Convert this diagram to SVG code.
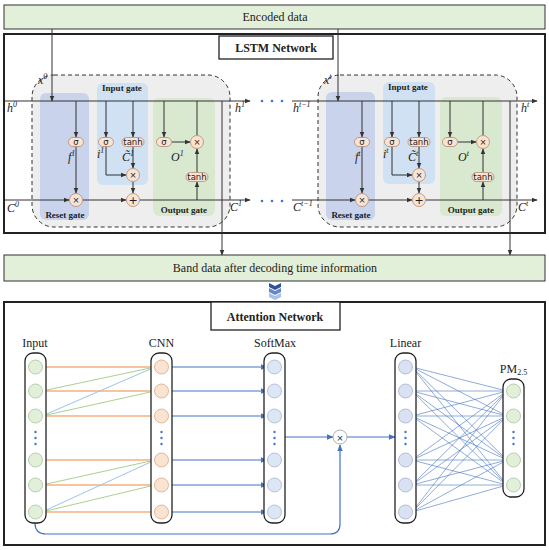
<svg xmlns="http://www.w3.org/2000/svg" width="549" height="550" viewBox="0 0 549 550">
<defs>
<marker id="ah" viewBox="0 0 10 10" refX="9" refY="5" markerWidth="6" markerHeight="6" orient="auto" markerUnits="userSpaceOnUse"><path d="M0,1 L10,5 L0,9 z" fill="#333"/></marker>
<marker id="ab" viewBox="0 0 10 10" refX="9" refY="5" markerWidth="7" markerHeight="7" orient="auto" markerUnits="userSpaceOnUse"><path d="M0,1 L10,5 L0,9 z" fill="#4472c4"/></marker>
<style>
text{font-family:"Liberation Serif","Times New Roman",serif;fill:#222}
.box{fill:#e2efd9;stroke:#333;stroke-width:1}
.frame{fill:#fff;stroke:#222;stroke-width:2}
.title{fill:#fff;stroke:#222;stroke-width:1.3}
.bt{font-size:12px;font-weight:bold;text-anchor:middle}
.lbl{font-size:12px;text-anchor:middle}
.gl{font-size:9px;font-weight:bold;text-anchor:middle}
.m{font-size:12px;font-style:italic}
.cell{fill:#eeeeee;stroke:#333;stroke-width:1;stroke-dasharray:4,3}
.rg{fill:#c9d3ec}
.ig{fill:#cfe1f3}
.og{fill:#d8e9cf}
.op{fill:#fbe3d2;stroke:#b08a74;stroke-width:0.8}
.ot{font-family:"DejaVu Sans","Liberation Sans",sans-serif;font-size:8.5px;text-anchor:middle;fill:#222}
.ln{stroke:#333;stroke-width:1;fill:none}
.dot{fill:#4472c4}
.col{fill:#fff;stroke:#222;stroke-width:1.3}
.cg{fill:#e2efd9;stroke:#a9c4a0;stroke-width:0.8}
.co{fill:#fbe3d2;stroke:#dba889;stroke-width:0.8}
.cb{fill:#dce6f4;stroke:#a5b7d2;stroke-width:0.8}
.cl{fill:#d9e1f2;stroke:#a5b0cf;stroke-width:0.8}
.or{stroke:#f4b183;stroke-width:1.3}
.gr{stroke:#a9d18e;stroke-width:1}
.lb{stroke:#9dc3e6;stroke-width:1}
.ba{stroke:#4472c4;stroke-width:1.2;fill:none}
.fl{stroke:#4472c4;stroke-width:0.6}
</style>
</defs>

<g id="encoded">
<rect class="box" x="4" y="5" width="541" height="24"/>
<text class="lbl" x="275" y="21">Encoded data</text>
</g>

<g id="lstm">
<rect class="frame" x="4" y="34" width="541" height="199"/>
</g>

<g id="cell1">
<rect class="cell" x="32" y="75" width="198" height="152" rx="22"/>
<rect class="rg" x="40" y="93" width="49" height="127" rx="6"/>
<rect class="ig" x="97" y="83" width="51" height="102" rx="6"/>
<rect class="og" x="153" y="98" width="62" height="118" rx="6"/>
<text class="gl" x="122" y="91">Input gate</text>
<text class="gl" x="65" y="218">Reset gate</text>
<text class="gl" x="184" y="213">Output gate</text>
</g>

<g id="cell2">
<rect class="cell" x="318" y="75" width="199" height="152" rx="22"/>
<rect class="rg" x="326" y="92" width="49" height="128" rx="6"/>
<rect class="ig" x="383" y="82" width="52" height="102" rx="6"/>
<rect class="og" x="440" y="97" width="62" height="119" rx="6"/>
<text class="gl" x="408" y="90">Input gate</text>
<text class="gl" x="351" y="218">Reset gate</text>
<text class="gl" x="471" y="213">Output gate</text>
</g>

<g id="lstm-title">
<rect class="title" x="219" y="36" width="114" height="23"/>
<text class="bt" x="276" y="52">LSTM Network</text>
</g>

<g id="connectors-lstm">
<!-- cell 1 -->
<line class="ln" x1="5" y1="101" x2="250" y2="101" marker-end="url(#ah)"/>
<line class="ln" x1="52" y1="29" x2="52" y2="101" marker-end="url(#ah)"/>
<line class="ln" x1="76" y1="101" x2="76" y2="137" marker-end="url(#ah)"/>
<line class="ln" x1="76" y1="147" x2="76" y2="193" marker-end="url(#ah)"/>
<line class="ln" x1="5" y1="200" x2="69" y2="200" marker-end="url(#ah)"/>
<line class="ln" x1="83" y1="200" x2="126" y2="200" marker-end="url(#ah)"/>
<line class="ln" x1="140" y1="200" x2="250" y2="200" marker-end="url(#ah)"/>
<line class="ln" x1="106" y1="101" x2="106" y2="137" marker-end="url(#ah)"/>
<polyline class="ln" points="106,147 106,175 126,175" marker-end="url(#ah)"/>
<line class="ln" x1="133" y1="101" x2="133" y2="137" marker-end="url(#ah)"/>
<line class="ln" x1="133" y1="147" x2="133" y2="168" marker-end="url(#ah)"/>
<line class="ln" x1="133" y1="182" x2="133" y2="193" marker-end="url(#ah)"/>
<line class="ln" x1="164" y1="101" x2="164" y2="137" marker-end="url(#ah)"/>
<line class="ln" x1="172" y1="142" x2="190" y2="142" marker-end="url(#ah)"/>
<line class="ln" x1="197" y1="200" x2="197" y2="182" marker-end="url(#ah)"/>
<line class="ln" x1="197" y1="172" x2="197" y2="149" marker-end="url(#ah)"/>
<line class="ln" x1="197" y1="135" x2="197" y2="101"/>
<line class="ln" x1="222" y1="101" x2="222" y2="255" marker-end="url(#ah)"/>
<!-- cell 2 -->
<line class="ln" x1="292" y1="101" x2="537" y2="101" marker-end="url(#ah)"/>
<line class="ln" x1="338" y1="29" x2="338" y2="101" marker-end="url(#ah)"/>
<line class="ln" x1="362" y1="101" x2="362" y2="137" marker-end="url(#ah)"/>
<line class="ln" x1="362" y1="147" x2="362" y2="193" marker-end="url(#ah)"/>
<line class="ln" x1="292" y1="200" x2="355" y2="200" marker-end="url(#ah)"/>
<line class="ln" x1="369" y1="200" x2="412" y2="200" marker-end="url(#ah)"/>
<line class="ln" x1="426" y1="200" x2="537" y2="200" marker-end="url(#ah)"/>
<line class="ln" x1="392" y1="101" x2="392" y2="137" marker-end="url(#ah)"/>
<polyline class="ln" points="392,147 392,175 412,175" marker-end="url(#ah)"/>
<line class="ln" x1="419" y1="101" x2="419" y2="137" marker-end="url(#ah)"/>
<line class="ln" x1="419" y1="147" x2="419" y2="168" marker-end="url(#ah)"/>
<line class="ln" x1="419" y1="182" x2="419" y2="193" marker-end="url(#ah)"/>
<line class="ln" x1="450" y1="101" x2="450" y2="137" marker-end="url(#ah)"/>
<line class="ln" x1="458" y1="142" x2="476" y2="142" marker-end="url(#ah)"/>
<line class="ln" x1="483" y1="200" x2="483" y2="182" marker-end="url(#ah)"/>
<line class="ln" x1="483" y1="172" x2="483" y2="149" marker-end="url(#ah)"/>
<line class="ln" x1="483" y1="135" x2="483" y2="101"/>
<line class="ln" x1="510" y1="101" x2="510" y2="255" marker-end="url(#ah)"/>
</g>

<g id="ops1">
<rect class="op" x="68.5" y="137.5" width="15" height="9" rx="4.5"/><text class="ot" x="76" y="145">σ</text>
<rect class="op" x="98.5" y="137.5" width="15" height="9" rx="4.5"/><text class="ot" x="106" y="145">σ</text>
<rect class="op" x="122" y="137.5" width="22" height="9" rx="4.5"/><text class="ot" x="133" y="145">tanh</text>
<rect class="op" x="156.5" y="137.5" width="15" height="9" rx="4.5"/><text class="ot" x="164" y="145">σ</text>
<rect class="op" x="186" y="172.5" width="22" height="9" rx="4.5"/><text class="ot" x="197" y="180">tanh</text>
<circle class="op" cx="76" cy="200" r="6.5"/><text class="ot" x="76" y="203">×</text>
<circle class="op" cx="133" cy="175" r="6.5"/><text class="ot" x="133" y="178">×</text>
<circle class="op" cx="133" cy="200" r="6.5"/><text class="ot" x="133" y="203.5" style="font-size:11px">+</text>
<circle class="op" cx="197" cy="142" r="6.5"/><text class="ot" x="197" y="145">×</text>
</g>

<g id="ops2">
<rect class="op" x="354.5" y="137.5" width="15" height="9" rx="4.5"/><text class="ot" x="362" y="145">σ</text>
<rect class="op" x="384.5" y="137.5" width="15" height="9" rx="4.5"/><text class="ot" x="392" y="145">σ</text>
<rect class="op" x="408" y="137.5" width="22" height="9" rx="4.5"/><text class="ot" x="419" y="145">tanh</text>
<rect class="op" x="442.5" y="137.5" width="15" height="9" rx="4.5"/><text class="ot" x="450" y="145">σ</text>
<rect class="op" x="472" y="172.5" width="22" height="9" rx="4.5"/><text class="ot" x="483" y="180">tanh</text>
<circle class="op" cx="362" cy="200" r="6.5"/><text class="ot" x="362" y="203">×</text>
<circle class="op" cx="419" cy="175" r="6.5"/><text class="ot" x="419" y="178">×</text>
<circle class="op" cx="419" cy="200" r="6.5"/><text class="ot" x="419" y="203.5" style="font-size:11px">+</text>
<circle class="op" cx="483" cy="142" r="6.5"/><text class="ot" x="483" y="145">×</text>
</g>

<g id="labels-lstm">
<text class="m" x="7" y="112">h<tspan dy="-5" font-size="8">0</tspan></text>
<text class="m" x="7" y="212">C<tspan dy="-5" font-size="8">0</tspan></text>
<text class="m" x="38" y="84">x<tspan dy="-5" font-size="8">0</tspan></text>
<text class="m" x="68" y="161">f<tspan dy="-5" font-size="8">1</tspan></text>
<text class="m" x="97" y="158">i<tspan dy="-5" font-size="8">1</tspan></text>
<text class="m" x="122" y="161">C̃<tspan dy="-5" font-size="8">1</tspan></text>
<text class="m" x="171" y="161">O<tspan dy="-5" font-size="8">1</tspan></text>
<text class="m" x="235" y="112">h<tspan dy="-5" font-size="8">1</tspan></text>
<text class="m" x="230" y="211">C<tspan dy="-5" font-size="8">1</tspan></text>
<text class="m" x="293" y="112">h<tspan dy="-5" font-size="8">t−1</tspan></text>
<text class="m" x="293" y="211">C<tspan dy="-5" font-size="8">t−1</tspan></text>
<text class="m" x="324" y="84">x<tspan dy="-5" font-size="8">t</tspan></text>
<text class="m" x="355" y="161">f<tspan dy="-5" font-size="8">t</tspan></text>
<text class="m" x="383" y="158">i<tspan dy="-5" font-size="8">t</tspan></text>
<text class="m" x="408" y="161">C̃<tspan dy="-5" font-size="8">t</tspan></text>
<text class="m" x="458" y="161">O<tspan dy="-5" font-size="8">t</tspan></text>
<text class="m" x="521" y="112">h<tspan dy="-5" font-size="8">t</tspan></text>
<text class="m" x="518" y="211">C<tspan dy="-5" font-size="8">t</tspan></text>
</g>

<g id="dots-lstm">
<circle class="dot" cx="262" cy="101" r="1.3"/><circle class="dot" cx="272" cy="101" r="1.3"/><circle class="dot" cx="282" cy="101" r="1.3"/>
<circle class="dot" cx="262" cy="201" r="1.3"/><circle class="dot" cx="272" cy="201" r="1.3"/><circle class="dot" cx="282" cy="201" r="1.3"/>
</g>

<g id="band">
<rect class="box" x="4" y="255" width="541" height="26"/>
<text class="lbl" x="275" y="272">Band data after decoding time information</text>
</g>

<g id="chevrons">
<path d="M269,283 L275,286 L281,283 L281,287 L275,290 L269,287 z" fill="#2f5597"/>
<path d="M269,288 L275,291 L281,288 L281,292 L275,295 L269,292 z" fill="#6386cc"/>
<path d="M269,293 L275,296 L281,293 L281,297 L275,300 L269,297 z" fill="#a8bfe6"/>
</g>

<g id="attention">
<rect class="frame" x="4" y="302" width="541" height="243"/>
<rect class="title" x="211" y="302" width="129" height="28"/>
<text class="bt" x="275" y="321">Attention Network</text>
</g>

<g id="connectors-attn">
<line class="or" x1="42" y1="367" x2="155" y2="367"/>
<line class="or" x1="42" y1="391" x2="155" y2="391"/>
<line class="or" x1="42" y1="416" x2="155" y2="416"/>
<line class="or" x1="42" y1="460" x2="155" y2="460"/>
<line class="or" x1="42" y1="485" x2="155" y2="485"/>
<line class="or" x1="42" y1="512" x2="155" y2="512"/>
<line class="gr" x1="42" y1="391" x2="155" y2="367"/>
<line class="gr" x1="42" y1="416" x2="155" y2="391"/>
<line class="gr" x1="42" y1="485" x2="155" y2="460"/>
<line class="gr" x1="42" y1="512" x2="155" y2="485"/>
<line class="lb" x1="42" y1="416" x2="155" y2="367"/>
<line class="lb" x1="42" y1="512" x2="155" y2="460"/>
<line class="ba" x1="169" y1="367" x2="267" y2="367" marker-end="url(#ab)"/>
<line class="ba" x1="169" y1="391" x2="267" y2="391" marker-end="url(#ab)"/>
<line class="ba" x1="169" y1="416" x2="267" y2="416" marker-end="url(#ab)"/>
<line class="ba" x1="169" y1="460" x2="267" y2="460" marker-end="url(#ab)"/>
<line class="ba" x1="169" y1="485" x2="267" y2="485" marker-end="url(#ab)"/>
<line class="ba" x1="169" y1="512" x2="267" y2="512" marker-end="url(#ab)"/>
<line class="ba" x1="285" y1="437" x2="333" y2="437" marker-end="url(#ab)"/>
<line class="ba" x1="347" y1="437" x2="395" y2="437" marker-end="url(#ab)"/>
<path class="ba" d="M35,523 Q35,534 46,534 L330,534 Q340,534 340,524 L340,445" marker-end="url(#ab)"/>
<g class="fl">
<line x1="412" y1="367" x2="507" y2="391"/><line x1="412" y1="367" x2="507" y2="416"/><line x1="412" y1="367" x2="507" y2="460"/><line x1="412" y1="367" x2="507" y2="485"/>
<line x1="412" y1="391" x2="507" y2="391"/><line x1="412" y1="391" x2="507" y2="416"/><line x1="412" y1="391" x2="507" y2="460"/><line x1="412" y1="391" x2="507" y2="485"/>
<line x1="412" y1="416" x2="507" y2="391"/><line x1="412" y1="416" x2="507" y2="416"/><line x1="412" y1="416" x2="507" y2="460"/><line x1="412" y1="416" x2="507" y2="485"/>
<line x1="412" y1="460" x2="507" y2="391"/><line x1="412" y1="460" x2="507" y2="416"/><line x1="412" y1="460" x2="507" y2="460"/><line x1="412" y1="460" x2="507" y2="485"/>
<line x1="412" y1="485" x2="507" y2="391"/><line x1="412" y1="485" x2="507" y2="416"/><line x1="412" y1="485" x2="507" y2="460"/><line x1="412" y1="485" x2="507" y2="485"/>
<line x1="412" y1="512" x2="507" y2="391"/><line x1="412" y1="512" x2="507" y2="416"/><line x1="412" y1="512" x2="507" y2="460"/><line x1="412" y1="512" x2="507" y2="485"/>
</g>
</g>

<g id="input-col">
<text class="lbl" x="35" y="347">Input</text>
<rect class="col" x="25" y="353" width="21" height="170" rx="8"/>
<circle class="cg" cx="35.5" cy="367" r="7"/><circle class="cg" cx="35.5" cy="391" r="7"/><circle class="cg" cx="35.5" cy="416" r="7"/>
<circle class="cg" cx="35.5" cy="460" r="7"/><circle class="cg" cx="35.5" cy="485" r="7"/><circle class="cg" cx="35.5" cy="512" r="7"/>
<circle class="dot" cx="35.5" cy="432" r="1.2"/><circle class="dot" cx="35.5" cy="438" r="1.2"/><circle class="dot" cx="35.5" cy="444" r="1.2"/>
</g>

<g id="cnn-col">
<text class="lbl" x="161.5" y="347">CNN</text>
<rect class="col" x="151" y="353" width="21" height="170" rx="8"/>
<circle class="co" cx="161.5" cy="367" r="7"/><circle class="co" cx="161.5" cy="391" r="7"/><circle class="co" cx="161.5" cy="416" r="7"/>
<circle class="co" cx="161.5" cy="460" r="7"/><circle class="co" cx="161.5" cy="485" r="7"/><circle class="co" cx="161.5" cy="512" r="7"/>
<circle class="dot" cx="161.5" cy="432" r="1.2"/><circle class="dot" cx="161.5" cy="438" r="1.2"/><circle class="dot" cx="161.5" cy="444" r="1.2"/>
</g>

<g id="softmax-col">
<text class="lbl" x="275" y="347">SoftMax</text>
<rect class="col" x="264" y="353" width="21" height="170" rx="8"/>
<circle class="cb" cx="274.5" cy="367" r="7"/><circle class="cb" cx="274.5" cy="391" r="7"/><circle class="cb" cx="274.5" cy="416" r="7"/>
<circle class="cb" cx="274.5" cy="460" r="7"/><circle class="cb" cx="274.5" cy="485" r="7"/><circle class="cb" cx="274.5" cy="512" r="7"/>
<circle class="dot" cx="274.5" cy="432" r="1.2"/><circle class="dot" cx="274.5" cy="438" r="1.2"/><circle class="dot" cx="274.5" cy="444" r="1.2"/>
</g>

<g id="multiply">
<circle cx="340" cy="437" r="7" fill="#fff" stroke="#999" stroke-width="0.8"/>
<text class="ot" x="340" y="440.5">×</text>
</g>

<g id="linear-col">
<text class="lbl" x="405.5" y="347">Linear</text>
<rect class="col" x="395" y="353" width="21" height="170" rx="8"/>
<circle class="cl" cx="405.5" cy="367" r="7"/><circle class="cl" cx="405.5" cy="391" r="7"/><circle class="cl" cx="405.5" cy="416" r="7"/>
<circle class="cl" cx="405.5" cy="460" r="7"/><circle class="cl" cx="405.5" cy="485" r="7"/><circle class="cl" cx="405.5" cy="512" r="7"/>
<circle class="dot" cx="405.5" cy="432" r="1.2"/><circle class="dot" cx="405.5" cy="438" r="1.2"/><circle class="dot" cx="405.5" cy="444" r="1.2"/>
</g>

<g id="pm-col">
<text class="lbl" x="513.5" y="373">PM<tspan font-size="8" dy="2">2.5</tspan></text>
<rect class="col" x="503" y="379" width="21" height="118" rx="8"/>
<circle class="cg" cx="513.5" cy="391" r="7"/><circle class="cg" cx="513.5" cy="416" r="7"/>
<circle class="cg" cx="513.5" cy="460" r="7"/><circle class="cg" cx="513.5" cy="485" r="7"/>
<circle class="dot" cx="513.5" cy="432" r="1.2"/><circle class="dot" cx="513.5" cy="438" r="1.2"/><circle class="dot" cx="513.5" cy="444" r="1.2"/>
</g>
</svg>
